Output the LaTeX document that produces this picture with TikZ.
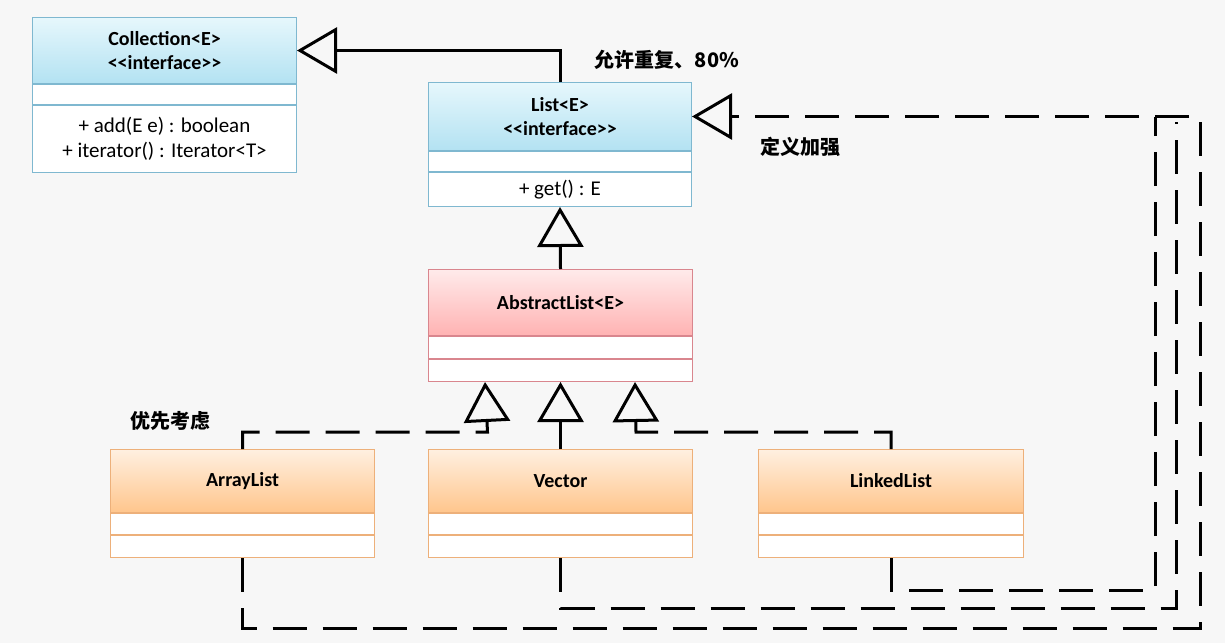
\documentclass[tikz,border=0pt]{standalone}
\usepackage{fontspec}
\setmainfont{Carlito}
\newfontfamily\cjk{Noto Sans CJK SC}
\usetikzlibrary{arrows.meta, positioning}
\definecolor{blueline}{HTML}{7FB8D0}
\definecolor{redline}{HTML}{D9868E}
\definecolor{orangeline}{HTML}{EDB07A}
\definecolor{bluetop}{HTML}{E6F7FC}
\definecolor{bluebot}{HTML}{B3E2F2}

\tikzset{
    head/.style={draw=#1line, line width=0.5pt, font=\bfseries, align=center, inner sep=0pt, anchor=north west},
    bluehead/.style={head=blue, top color=bluetop, bottom color=bluebot},
    redhead/.style={head=red, top color=red!8, bottom color=red!30},
    orangehead/.style={head=orange, top color=orange!12, bottom color=orange!45},
    row/.style 2 args={draw=#1line, line width=0.5pt, fill=white, align=center, inner sep=0pt, below=0pt of #2},
    inherit/.style={line width=1.5pt, -{Triangle[open, length=20pt, width=23pt]}},
    impl/.style={inherit, dash pattern=on 17pt off 8pt},
    link/.style={line width=1.5pt, dash pattern=on 17pt off 8pt},
    note/.style={font=\cjk\bfseries, inner sep=0pt}
}

\begin{document}
\begin{tikzpicture}[x=0.5pt, y=-0.5pt, font=\fontsize{10.5}{12.5}\selectfont]
    \useasboundingbox[fill=white!97!black] (0,0) rectangle (1225,643);

    % interfaces
    \node[bluehead, minimum width=132pt, minimum height=33pt] (coll) at (32,17) {Collection<E>\\<{}<interface>{}>};
    \node[row={blue}{coll}, minimum width=132pt, minimum height=10pt] (coll-a) {};
    \node[row={blue}{coll-a}, minimum width=132pt, minimum height=33.5pt] (coll-o) {+ add(E e) : boolean\\+ iterator() : Iterator<T>};

    \node[bluehead, minimum width=131.5pt, minimum height=34pt] (list) at (428,82) {List<E>\\<{}<interface>{}>};
    \node[row={blue}{list}, minimum width=131.5pt, minimum height=10pt] (list-a) {};
    \node[row={blue}{list-a}, minimum width=131.5pt, minimum height=17pt] (list-o) {+ get() : E};

    % abstract class
    \node[redhead, minimum width=132pt, minimum height=33pt] (abs) at (428,269) {AbstractList<E>};
    \node[row={red}{abs}, minimum width=132pt, minimum height=11pt] (abs-a) {};
    \node[row={red}{abs-a}, minimum width=132pt, minimum height=11pt] (abs-o) {};

    % concrete classes
    \node[orangehead, minimum width=132pt, minimum height=31.5pt] (arr) at (110,449) {ArrayList};
    \node[row={orange}{arr}, minimum width=132pt, minimum height=10.5pt] (arr-a) {};
    \node[row={orange}{arr-a}, minimum width=132pt, minimum height=11pt] (arr-o) {};

    \node[orangehead, minimum width=132pt, minimum height=31.5pt] (vec) at (428,449) {Vector};
    \node[row={orange}{vec}, minimum width=132pt, minimum height=10.5pt] (vec-a) {};
    \node[row={orange}{vec-a}, minimum width=132pt, minimum height=11pt] (vec-o) {};

    \node[orangehead, minimum width=132.5pt, minimum height=31.5pt] (lnk) at (758,449) {LinkedList};
    \node[row={orange}{lnk}, minimum width=132.5pt, minimum height=10.5pt] (lnk-a) {};
    \node[row={orange}{lnk-a}, minimum width=132.5pt, minimum height=11pt] (lnk-o) {};

    % notes
    \node[note] (dup) at (667,60) {允许重复、80\%};
    \node[note] (strong) at (800,147) {定义加强};
    \node[note] (first) at (170,421) {优先考虑};

    % inheritance
    \draw[inherit] (list.north) |- (coll.east);
    \draw[inherit] (abs.north) -- (list-o.south);
    \draw[inherit] (vec.north) -- (abs-o.south);
    \draw[impl] (arr.north) |- ++(245,-17) -- (abs-o.south -| 485,0);
    \draw[impl] (lnk.north) |- ++(-255,-17) -- (abs-o.south -| 635,0);

    % back to List
    \coordinate (c-lnk) at (1155,590);
    \coordinate (c-vec) at (1176,608);
    \coordinate (c-arr) at (1200,628);
    \draw[link] (lnk-o.south) |- (c-lnk) -- (c-lnk |- list.east);
    \draw[link] (vec-o.south) |- (c-vec) -- ++(0,-486);
    \draw[impl] (arr-o.south) |- (c-arr) |- (list.east);
\end{tikzpicture}
\end{document}
